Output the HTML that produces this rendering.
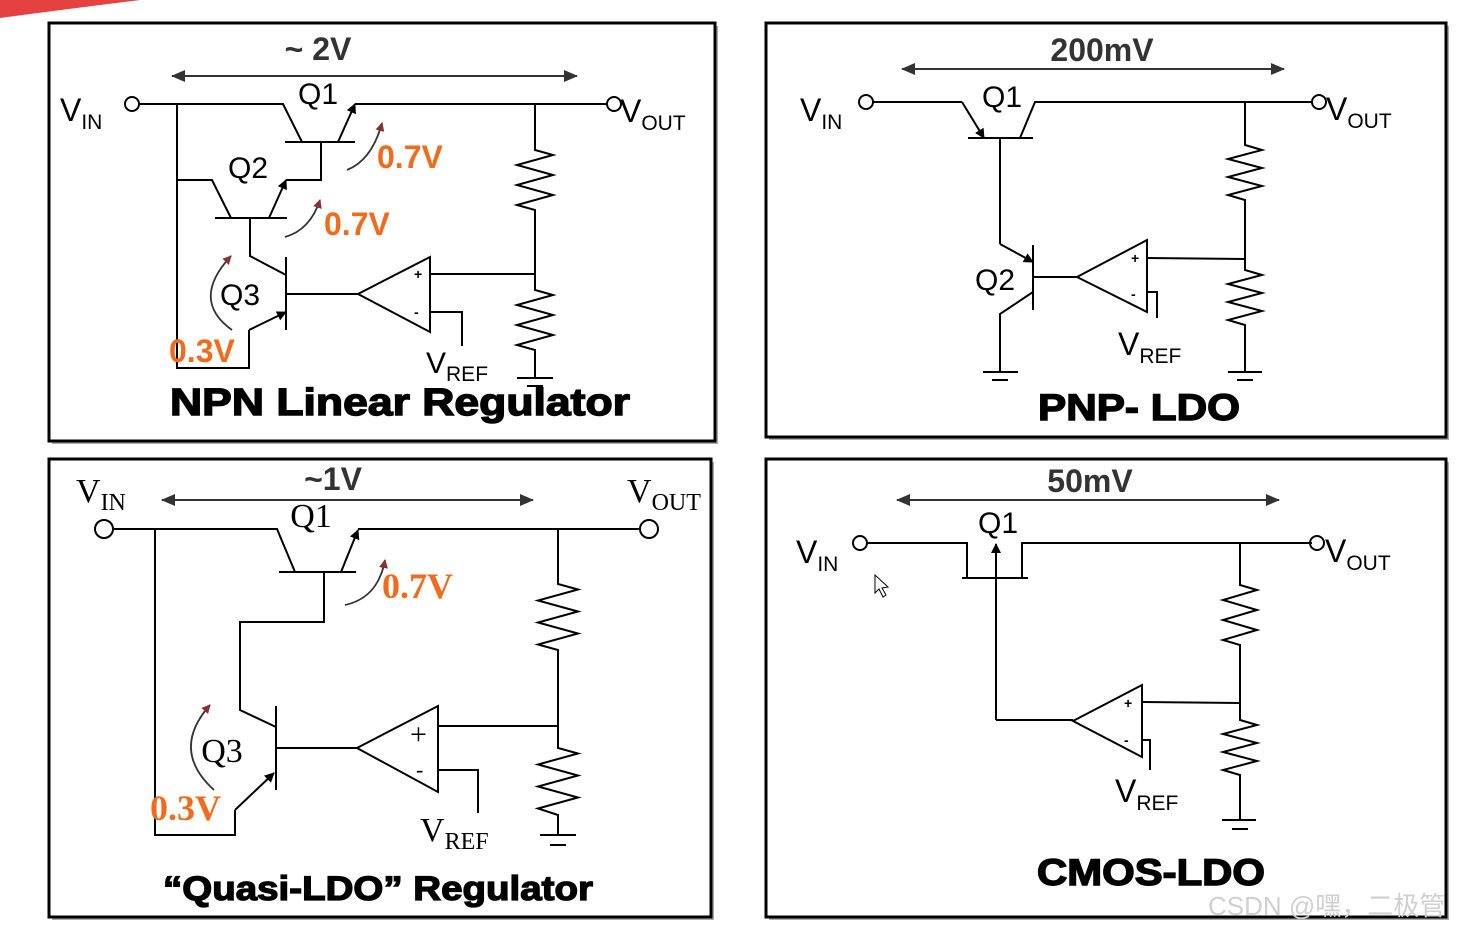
<!DOCTYPE html>
<html><head><meta charset="utf-8"><style>
body{margin:0;background:#fff;}
svg{display:block}
.s{font-family:"Liberation Sans",sans-serif;}
.t{font-family:"Liberation Serif",serif;}
.w{stroke:#000;stroke-width:2;fill:none}
.o{fill:#f26a1b;font-weight:bold}
</style></head><body>
<svg width="1462" height="930" viewBox="0 0 1462 930" xmlns="http://www.w3.org/2000/svg">
<defs>
<marker id="a" markerWidth="10" markerHeight="10" refX="9" refY="5" orient="auto" markerUnits="userSpaceOnUse"><path d="M0,0 L10,5 L0,10 z" fill="#000"/></marker>
<marker id="g" markerWidth="14" markerHeight="12" refX="13" refY="6" orient="auto" markerUnits="userSpaceOnUse"><path d="M0,0 L14,6 L0,12 z" fill="#333"/></marker>
<marker id="gs" markerWidth="14" markerHeight="12" refX="1" refY="6" orient="auto" markerUnits="userSpaceOnUse"><path d="M14,0 L0,6 L14,12 z" fill="#333"/></marker>
<marker id="c" markerWidth="9" markerHeight="9" refX="8" refY="4.5" orient="auto" markerUnits="userSpaceOnUse"><path d="M0,0 L9,4.5 L0,9 z" fill="#8a3030"/></marker>
</defs>
<path d="M0,18 Q60,10 140,0 L0,0 z" fill="#e02020" opacity="0.85"/>

<!-- Panel boxes -->
<rect x="52" y="26" width="666" height="418" fill="#aaa"/>
<rect x="49" y="23" width="666" height="418" fill="#fff" stroke="#000" stroke-width="3"/>
<rect x="769" y="26" width="680" height="414" fill="#aaa"/>
<rect x="766" y="23" width="680" height="414" fill="#fff" stroke="#000" stroke-width="3"/>
<rect x="52" y="462" width="662" height="458" fill="#aaa"/>
<rect x="49" y="459" width="662" height="458" fill="#fff" stroke="#000" stroke-width="3"/>
<rect x="769" y="462" width="680" height="458" fill="#aaa"/>
<rect x="766" y="459" width="680" height="458" fill="#fff" stroke="#000" stroke-width="3"/>

<!-- ===== Panel 1 NPN ===== -->
<line x1="172" y1="76" x2="577" y2="76" stroke="#333" stroke-width="2" marker-start="url(#gs)" marker-end="url(#g)"/>
<text x="318" y="60" class="s" font-size="32" font-weight="bold" fill="#333" text-anchor="middle">~ 2V</text>
<text x="60" y="121" class="s" font-size="32">V<tspan font-size="21" dy="8">IN</tspan></text>
<circle cx="132" cy="104" r="7" class="w" fill="#fff"/>
<g class="w">
<path d="M139,104 H283 L302,142"/>
<path d="M285,142 H355"/>
<path d="M338,142 L355,104" marker-end="url(#a)"/>
<path d="M355,104 H607"/>
<path d="M177,104 V368 H249 V330"/>
<path d="M249,330 L286,312" marker-end="url(#a)"/>
<path d="M177,180 H212 L231,218"/>
<path d="M215,218 H287"/>
<path d="M269,218 L286,180" marker-end="url(#a)"/>
<path d="M286,180 H321 V142"/>
<path d="M250,218 V256 L286,275"/>
<path d="M286,257 V330"/>
<path d="M286,294 H358"/>
<path d="M358,294 L430,257 V332 Z"/>
<path d="M430,274 H535"/>
<path d="M430,312 H462 V346"/>
<path d="M535,104 V150 L553,155 L517,165 L553,175 L517,185 L553,195 L517,205 L535,210 V290 L553,295 L517,305 L553,315 L517,325 L553,335 L517,345 L535,350 V378"/>
<path d="M517,378 H553 M527,386 H543"/>
</g>
<circle cx="614" cy="104" r="7" class="w" fill="#fff"/>
<text x="620" y="122" class="s" font-size="32">V<tspan font-size="21" dy="8">OUT</tspan></text>
<text x="318" y="104" class="s" font-size="30" text-anchor="middle">Q1</text>
<text x="248" y="178" class="s" font-size="30" text-anchor="middle">Q2</text>
<text x="240" y="305" class="s" font-size="30" text-anchor="middle">Q3</text>
<text x="414" y="279" class="s" font-size="14" font-weight="bold">+</text>
<text x="414" y="317" class="s" font-size="14" font-weight="bold">-</text>
<path d="M347,170 Q372,160 382,123" stroke="#333" stroke-width="1.8" fill="none" marker-end="url(#c)"/>
<path d="M285,237 Q310,230 320,200" stroke="#333" stroke-width="1.8" fill="none" marker-end="url(#c)"/>
<path d="M232,330 Q190,300 231,256" stroke="#333" stroke-width="1.8" fill="none" marker-end="url(#c)"/>
<text x="377" y="168" class="s o" font-size="32">0.7V</text>
<text x="324" y="235" class="s o" font-size="32">0.7V</text>
<text x="169" y="362" class="s o" font-size="32">0.3V</text>
<text x="426" y="373" class="s" font-size="30">V<tspan font-size="21" dy="8">REF</tspan></text>
<text x="170" y="415" class="s" font-size="38" font-weight="bold" stroke="#000" stroke-width="1.4" textLength="460" lengthAdjust="spacingAndGlyphs">NPN Linear Regulator</text>

<!-- ===== Panel 2 PNP ===== -->
<line x1="902" y1="69" x2="1284" y2="69" stroke="#333" stroke-width="2" marker-start="url(#gs)" marker-end="url(#g)"/>
<text x="1102" y="61" class="s" font-size="32" font-weight="bold" fill="#333" text-anchor="middle">200mV</text>
<text x="800" y="121" class="s" font-size="32">V<tspan font-size="21" dy="8">IN</tspan></text>
<circle cx="866" cy="102" r="7" class="w" fill="#fff"/>
<g class="w">
<path d="M873,102 H962"/>
<path d="M962,102 L984,138" marker-end="url(#a)"/>
<path d="M968,138 H1033"/>
<path d="M1020,138 L1035,102 H1312"/>
<path d="M1000,138 V244"/>
<path d="M1000,244 L1033,262" marker-end="url(#a)"/>
<path d="M1033,245 V310"/>
<path d="M1033,292 L1000,314 V372"/>
<path d="M983,372 H1018 M992,380 H1008"/>
<path d="M1033,277 H1077"/>
<path d="M1077,277 L1147,240 V312 Z"/>
<path d="M1147,258 L1245,259"/>
<path d="M1147,292 H1157 V318"/>
<path d="M1245,102 V145 L1262,150 L1228,159 L1262,168 L1228,177 L1262,186 L1228,195 L1245,200 V270 L1262,275 L1228,284 L1262,293 L1228,302 L1262,311 L1228,320 L1245,325 V372"/>
<path d="M1228,372 H1262 M1237,380 H1253"/>
</g>
<circle cx="1319" cy="102" r="7" class="w" fill="#fff"/>
<text x="1326" y="120" class="s" font-size="32">V<tspan font-size="21" dy="8">OUT</tspan></text>
<text x="1002" y="107" class="s" font-size="30" text-anchor="middle">Q1</text>
<text x="995" y="290" class="s" font-size="30" text-anchor="middle">Q2</text>
<text x="1131" y="263" class="s" font-size="14" font-weight="bold">+</text>
<text x="1131" y="299" class="s" font-size="14" font-weight="bold">-</text>
<text x="1118" y="355" class="s" font-size="32">V<tspan font-size="21" dy="8">REF</tspan></text>
<text x="1038" y="420" class="s" font-size="37" font-weight="bold" stroke="#000" stroke-width="1.4" textLength="202" lengthAdjust="spacingAndGlyphs">PNP- LDO</text>

<!-- ===== Panel 3 Quasi ===== -->
<line x1="162" y1="500" x2="533" y2="500" stroke="#333" stroke-width="2" marker-start="url(#gs)" marker-end="url(#g)"/>
<text x="333" y="490" class="s" font-size="32" font-weight="bold" fill="#333" text-anchor="middle">~1V</text>
<text x="76" y="502" class="t" font-size="34">V<tspan font-size="24" dy="8">IN</tspan></text>
<circle cx="104" cy="529" r="9" class="w" fill="#fff"/>
<g class="w">
<path d="M113,529 H277 L295,572"/>
<path d="M279,572 H356"/>
<path d="M341,572 L358,530" marker-end="url(#a)"/>
<path d="M358,529 H640"/>
<path d="M155,529 V835 H235 V810"/>
<path d="M235,810 L274,773" marker-end="url(#a)"/>
<path d="M324,572 V622 H240 V710 L276,727"/>
<path d="M276,706 V790"/>
<path d="M276,748 H357"/>
<path d="M357,748 L438,706 V792 Z"/>
<path d="M438,726 H558"/>
<path d="M438,770 H478 V813"/>
<path d="M558,529 V584 L578,589.5 L538,600.5 L578,611.5 L538,622.5 L578,633.5 L538,644.5 L558,650 V748 L578,753.5 L538,764.5 L578,775.5 L538,786.5 L578,797.5 L538,808.5 L558,815 V835"/>
<path d="M540,835 H576 M550,845 H566"/>
</g>
<circle cx="649" cy="529" r="9" class="w" fill="#fff"/>
<text x="627" y="502" class="t" font-size="34">V<tspan font-size="24" dy="8">OUT</tspan></text>
<text x="311" y="527" class="t" font-size="34" text-anchor="middle">Q1</text>
<text x="222" y="762" class="t" font-size="34" text-anchor="middle">Q3</text>
<text x="410" y="744" class="t" font-size="30">+</text>
<text x="416" y="777" class="t" font-size="22">-</text>
<path d="M345,605 Q378,598 385,560" stroke="#333" stroke-width="1.8" fill="none" marker-end="url(#c)"/>
<path d="M214,790 Q170,750 210,705" stroke="#333" stroke-width="1.8" fill="none" marker-end="url(#c)"/>
<text x="382" y="598" class="t o" font-size="36">0.7V</text>
<text x="150" y="820" class="t o" font-size="36">0.3V</text>
<text x="420" y="841" class="t" font-size="34">V<tspan font-size="24" dy="8">REF</tspan></text>
<text x="163" y="900" class="s" font-size="34" font-weight="bold" stroke="#000" stroke-width="1.3" textLength="430" lengthAdjust="spacingAndGlyphs">“Quasi-LDO” Regulator</text>

<!-- ===== Panel 4 CMOS ===== -->
<line x1="897" y1="500" x2="1279" y2="500" stroke="#333" stroke-width="2" marker-start="url(#gs)" marker-end="url(#g)"/>
<text x="1090" y="492" class="s" font-size="32" font-weight="bold" fill="#333" text-anchor="middle">50mV</text>
<text x="796" y="563" class="s" font-size="32">V<tspan font-size="21" dy="8">IN</tspan></text>
<circle cx="860" cy="543" r="7" class="w" fill="#fff"/>
<g class="w">
<path d="M867,543 H967 V578"/>
<path d="M962,578 H1028"/>
<path d="M1022,578 V543 H1312"/>
<path d="M996,720 V578"/>
<path d="M996,578 V544" marker-end="url(#a)"/>
<path d="M996,720 H1073"/>
<path d="M1073,721 L1142,685 V757 Z"/>
<path d="M1142,702 L1240,703"/>
<path d="M1142,740 H1150 V770"/>
<path d="M1240,543 V585 L1257,590 L1223,600 L1257,610 L1223,620 L1257,630 L1223,640 L1240,645 V720 L1257,725 L1223,734 L1257,743 L1223,752 L1257,761 L1223,770 L1240,775 V820"/>
<path d="M1222,820 H1256 M1232,829 H1248"/>
</g>
<circle cx="1317" cy="543" r="7" class="w" fill="#fff"/>
<text x="1325" y="562" class="s" font-size="32">V<tspan font-size="21" dy="8">OUT</tspan></text>
<text x="998" y="533" class="s" font-size="30" text-anchor="middle">Q1</text>
<text x="1124" y="708" class="s" font-size="14" font-weight="bold">+</text>
<text x="1124" y="745" class="s" font-size="14" font-weight="bold">-</text>
<text x="1115" y="802" class="s" font-size="32">V<tspan font-size="21" dy="8">REF</tspan></text>
<text x="1037" y="885" class="s" font-size="37" font-weight="bold" stroke="#000" stroke-width="1.4" textLength="228" lengthAdjust="spacingAndGlyphs">CMOS-LDO</text>
<path d="M875,575 V593 L879,589 L883,597 L886,595 L882,588 L888,587 Z" fill="#fff" stroke="#000" stroke-width="1"/>
<text x="1208" y="915" font-family="'Liberation Sans','Noto Sans CJK SC',sans-serif" font-size="26" fill="#d0d0d0">CSDN @嘿，二极管</text>
</svg>
</body></html>
